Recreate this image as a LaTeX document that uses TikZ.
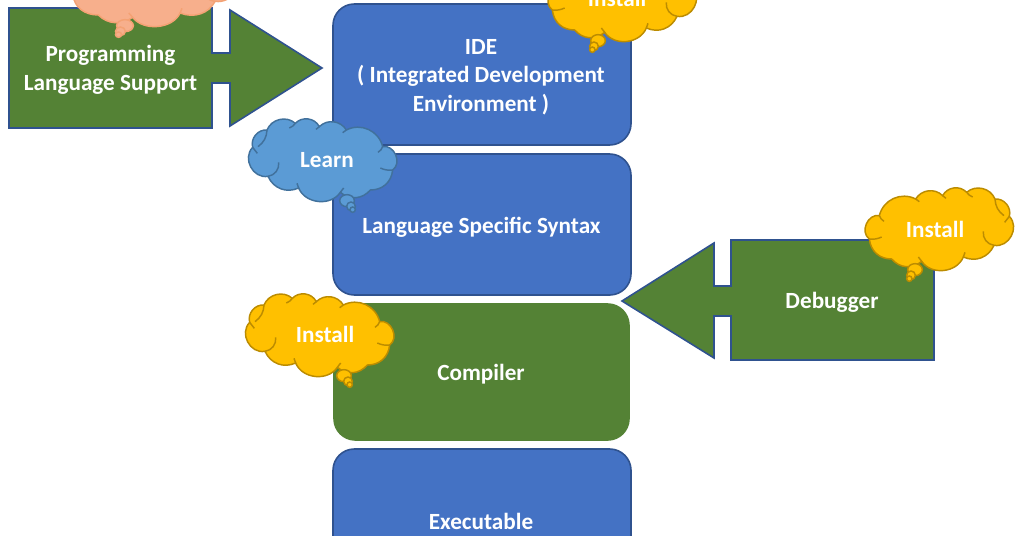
\documentclass[tikz,border=0pt]{standalone}
\usepackage{fontspec}
\setmainfont{Carlito}
\definecolor{boxblue}{HTML}{4472C4}
\definecolor{edgeblue}{HTML}{2F528F}
\definecolor{leaf}{HTML}{548235}
\definecolor{skyfill}{HTML}{5B9BD5}
\definecolor{skyedge}{HTML}{41719C}
\definecolor{goldfill}{HTML}{FFC000}
\definecolor{goldedge}{HTML}{BC8C00}
\definecolor{peachfill}{HTML}{F7AF8C}
\definecolor{peachedge}{HTML}{F4A274}
\tikzset{
  x=0.75pt,y=-0.75pt,
  label/.style={text=white,font=\fontsize{17.4pt}{21.5pt}\selectfont\bfseries,align=center,inner sep=0pt},
  bluebox/.style={draw=edgeblue,fill=boxblue,line width=1.2pt,rounded corners=16pt},
  greenbox/.style={draw=leaf,fill=leaf,line width=1.2pt,rounded corners=16pt},
  bigarrow/.style={draw=edgeblue,fill=leaf,line width=1.2pt,line join=miter},
  bulge/.style={bend left=#1},
}
% #1 left x, #2 top y, #3 x factor, #4 fill, #5 edge
\newcommand{\thought}[5]{%
\begin{scope}[shift={(#1,#2)},xscale=#3*0.3333,yscale=0.3333,draw=#5,fill=#4,line width=1.1pt]
 \filldraw[shift={(-45,-25)},looseness=1.05,line join=round]
   (88,108) to[bulge=52] (197,58) to[bulge=52] (278,48) to[bulge=55] (350,38)
   to[bulge=55] (435,58) to[bulge=55] (478,110) to[bulge=72,looseness=1.2] (432,197)
   to[bulge=45] (340,232) to[bulge=62] (215,245) to[bulge=45] (125,238)
   to[bulge=42] (58,178) to[bulge=78,looseness=1.2] (88,108) -- cycle;
 \filldraw[shift={(-45,-25)}] (195,270) ellipse[x radius=22,y radius=18];
 \filldraw[shift={(-45,-25)}] (183,287) circle[radius=13];
 \filldraw[shift={(-45,-25)}] (178,297) circle[radius=8];
 \draw[shift={(-45,-25)}] (88,108) to[bulge=-18] (102,125);
 \draw[shift={(-45,-25)}] (197,58) -- (208,66);
 \draw[shift={(-45,-25)}] (278,48) -- (288,56);
 \draw[shift={(-45,-25)}] (350,38) to[bulge=-15] (368,52);
 \draw[shift={(-45,-25)}] (435,58) to[bulge=-25] (462,108) ;
 \draw[shift={(-45,-25)}] (478,110) -- (464,128);
 \draw[shift={(-45,-25)}] (400,155) to[bulge=-45] (432,197);
 \draw[shift={(-45,-25)}] (340,232) -- (345,218);
 \draw[shift={(-45,-25)}] (215,245) -- (205,232);
 \draw[shift={(-45,-25)}] (58,178) to[bulge=-15] (95,172);
\end{scope}}
\begin{document}
\begin{tikzpicture}
\clip[use as bounding box] (0,0) rectangle (1019,535);
\fill[white] (0,0) rectangle (1019,535);
% left arrow
\draw[bigarrow] (9,8) -- (212,8) -- (212,53) -- (230,53) -- (230,10) -- (322,68) -- (230,126) -- (230,83) -- (212,83) -- (212,128) -- (9,128) -- cycle;
\node[label] (lang) at (110.5,70) {Programming\\Language Support};
\thought{68}{-56}{1.14}{peachfill}{peachedge}
% boxes
\draw[bluebox] (333,4) rectangle (631,145);
\node[label] (ide) at (481,77) {IDE\\( Integrated Development\\Environment )};
\draw[bluebox] (333,154) rectangle (631,295);
\node[label] (syntax) at (481.5,227) {Language Specific Syntax};
\draw[greenbox] (334,304) rectangle (629,440);
\node[label] (compiler) at (481,374) {Compiler};
\draw[bluebox] (333,449) rectangle (631,590);
\node[label] (exec) at (481,521) {Executable};
% right arrow
\draw[bigarrow] (934,240) -- (731,240) -- (731,286) -- (714,286) -- (714,243) -- (622,301) -- (714,358) -- (714,316) -- (731,316) -- (731,360) -- (934,360) -- cycle;
\node[label] (debug) at (832,302) {Debugger};
% clouds
\thought{548}{-41}{1}{goldfill}{goldedge}
\node[label] (i1) at (617,-2) {Install};
\thought{397}{119}{-1}{skyfill}{skyedge}
\node[label] (l1) at (327,160) {Learn};
\thought{865}{188}{1}{goldfill}{goldedge}
\node[label] (i2) at (935,229) {Install};
\thought{394}{294}{-1}{goldfill}{goldedge}
\node[label] (i3) at (325,334) {Install};
\end{tikzpicture}
\end{document}
